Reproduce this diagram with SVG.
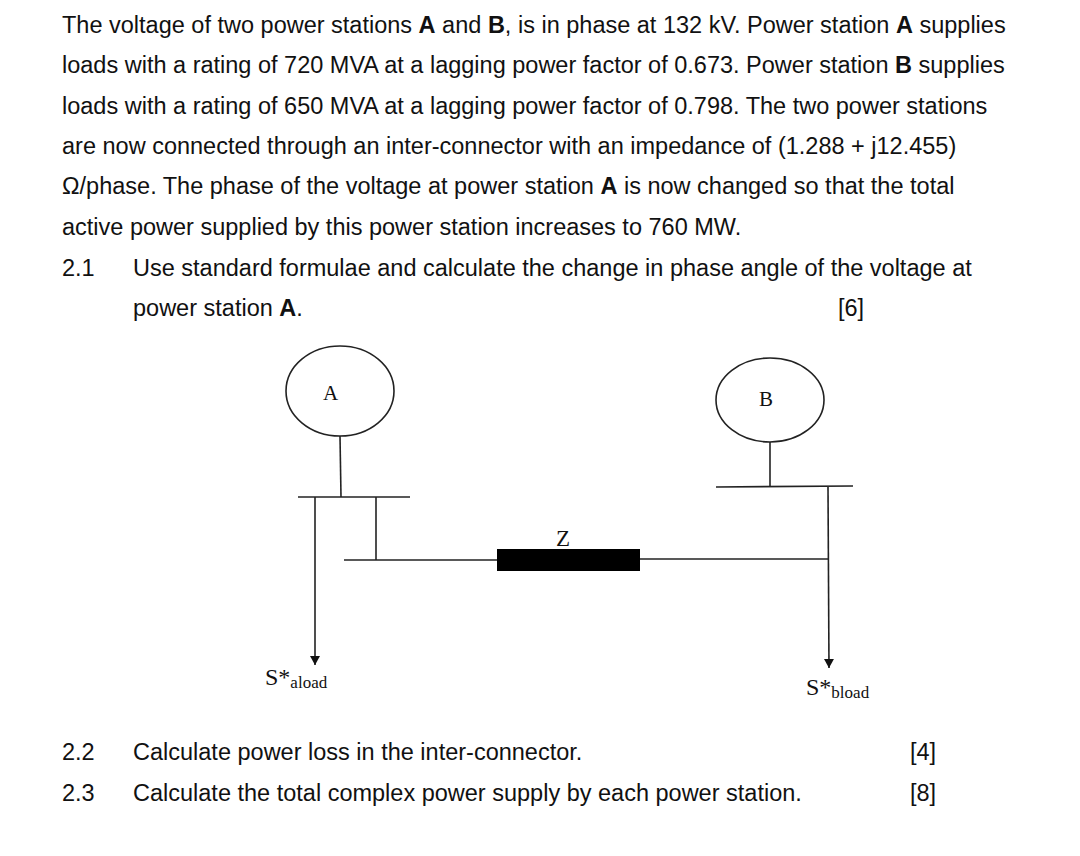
<svg xmlns="http://www.w3.org/2000/svg" width="1080" height="856" viewBox="0 0 1080 856">
<style>
.t{font-family:"Liberation Sans",Arial,sans-serif;font-size:23.5px;fill:#111}
.d{font-family:"Liberation Serif","Times New Roman",serif;fill:#111}
.l{stroke:#222;stroke-width:1.6;fill:none}
</style>
<defs><marker id="ar" markerWidth="10" markerHeight="10" refX="9" refY="5" orient="auto" markerUnits="userSpaceOnUse"><path d="M0,0 L9,5 L0,10 Z" fill="#111"/></marker></defs>
<rect width="1080" height="856" fill="#fff"/>
<g id="text">
<text class="t" x="62" y="33">The voltage of two power stations <tspan font-weight="bold">A</tspan> and <tspan font-weight="bold">B</tspan>, is in phase at 132 kV. Power station <tspan font-weight="bold">A</tspan> supplies</text>
<text class="t" x="62" y="73">loads with a rating of 720 MVA at a lagging power factor of 0.673. Power station <tspan font-weight="bold">B</tspan> supplies</text>
<text class="t" x="62" y="114">loads with a rating of 650 MVA at a lagging power factor of 0.798. The two power stations</text>
<text class="t" x="62" y="154">are now connected through an inter-connector with an impedance of (1.288 + j12.455)</text>
<text class="t" x="62" y="194">Ω/phase. The phase of the voltage at power station <tspan font-weight="bold">A</tspan> is now changed so that the total</text>
<text class="t" x="62" y="235">active power supplied by this power station increases to 760 MW.</text>
<text class="t" x="62" y="276">2.1</text>
<text class="t" x="133" y="276">Use standard formulae and calculate the change in phase angle of the voltage at</text>
<text class="t" x="133" y="316">power station <tspan font-weight="bold">A</tspan>.</text>
<text class="t" x="838" y="316">[6]</text>
<text class="t" x="62" y="760">2.2</text>
<text class="t" x="133" y="760">Calculate power loss in the inter-connector.</text>
<text class="t" x="910" y="760">[4]</text>
<text class="t" x="62" y="801">2.3</text>
<text class="t" x="133" y="801">Calculate the total complex power supply by each power station.</text>
<text class="t" x="910" y="801">[8]</text>
</g>
<g id="nodeA"><ellipse cx="340" cy="391" rx="54" ry="45" class="l"/><text class="d" x="323" y="400" font-size="21">A</text></g>
<g id="nodeB"><ellipse cx="770" cy="400" rx="54" ry="42" class="l"/><text class="d" x="759" y="406" font-size="21">B</text></g>
<g id="busA"><line x1="298" y1="497" x2="410" y2="497" class="l"/></g>
<g id="busB"><line x1="716" y1="487" x2="853" y2="486" class="l"/></g>
<g id="Z"><rect x="497" y="549" width="143" height="22" fill="#000"/><text class="d" x="556" y="546" font-size="23">Z</text></g>
<g id="connectors">
<line x1="340" y1="436" x2="341" y2="497" class="l"/>
<line x1="770" y1="442" x2="770" y2="487" class="l"/>
<line x1="315" y1="497" x2="315" y2="665" class="l" marker-end="url(#ar)"/>
<line x1="376" y1="497" x2="376" y2="560" class="l"/>
<line x1="344" y1="560" x2="497" y2="560" class="l"/>
<line x1="640" y1="559" x2="828" y2="559" class="l"/>
<line x1="828" y1="487" x2="829" y2="668" class="l" marker-end="url(#ar)"/>
</g>
<g id="labels">
<text class="d" x="265" y="685" font-size="24">S*<tspan font-size="17" dy="3">aload</tspan></text>
<text class="d" x="806" y="695" font-size="24">S*<tspan font-size="17" dy="3">bload</tspan></text>
</g>
</svg>
